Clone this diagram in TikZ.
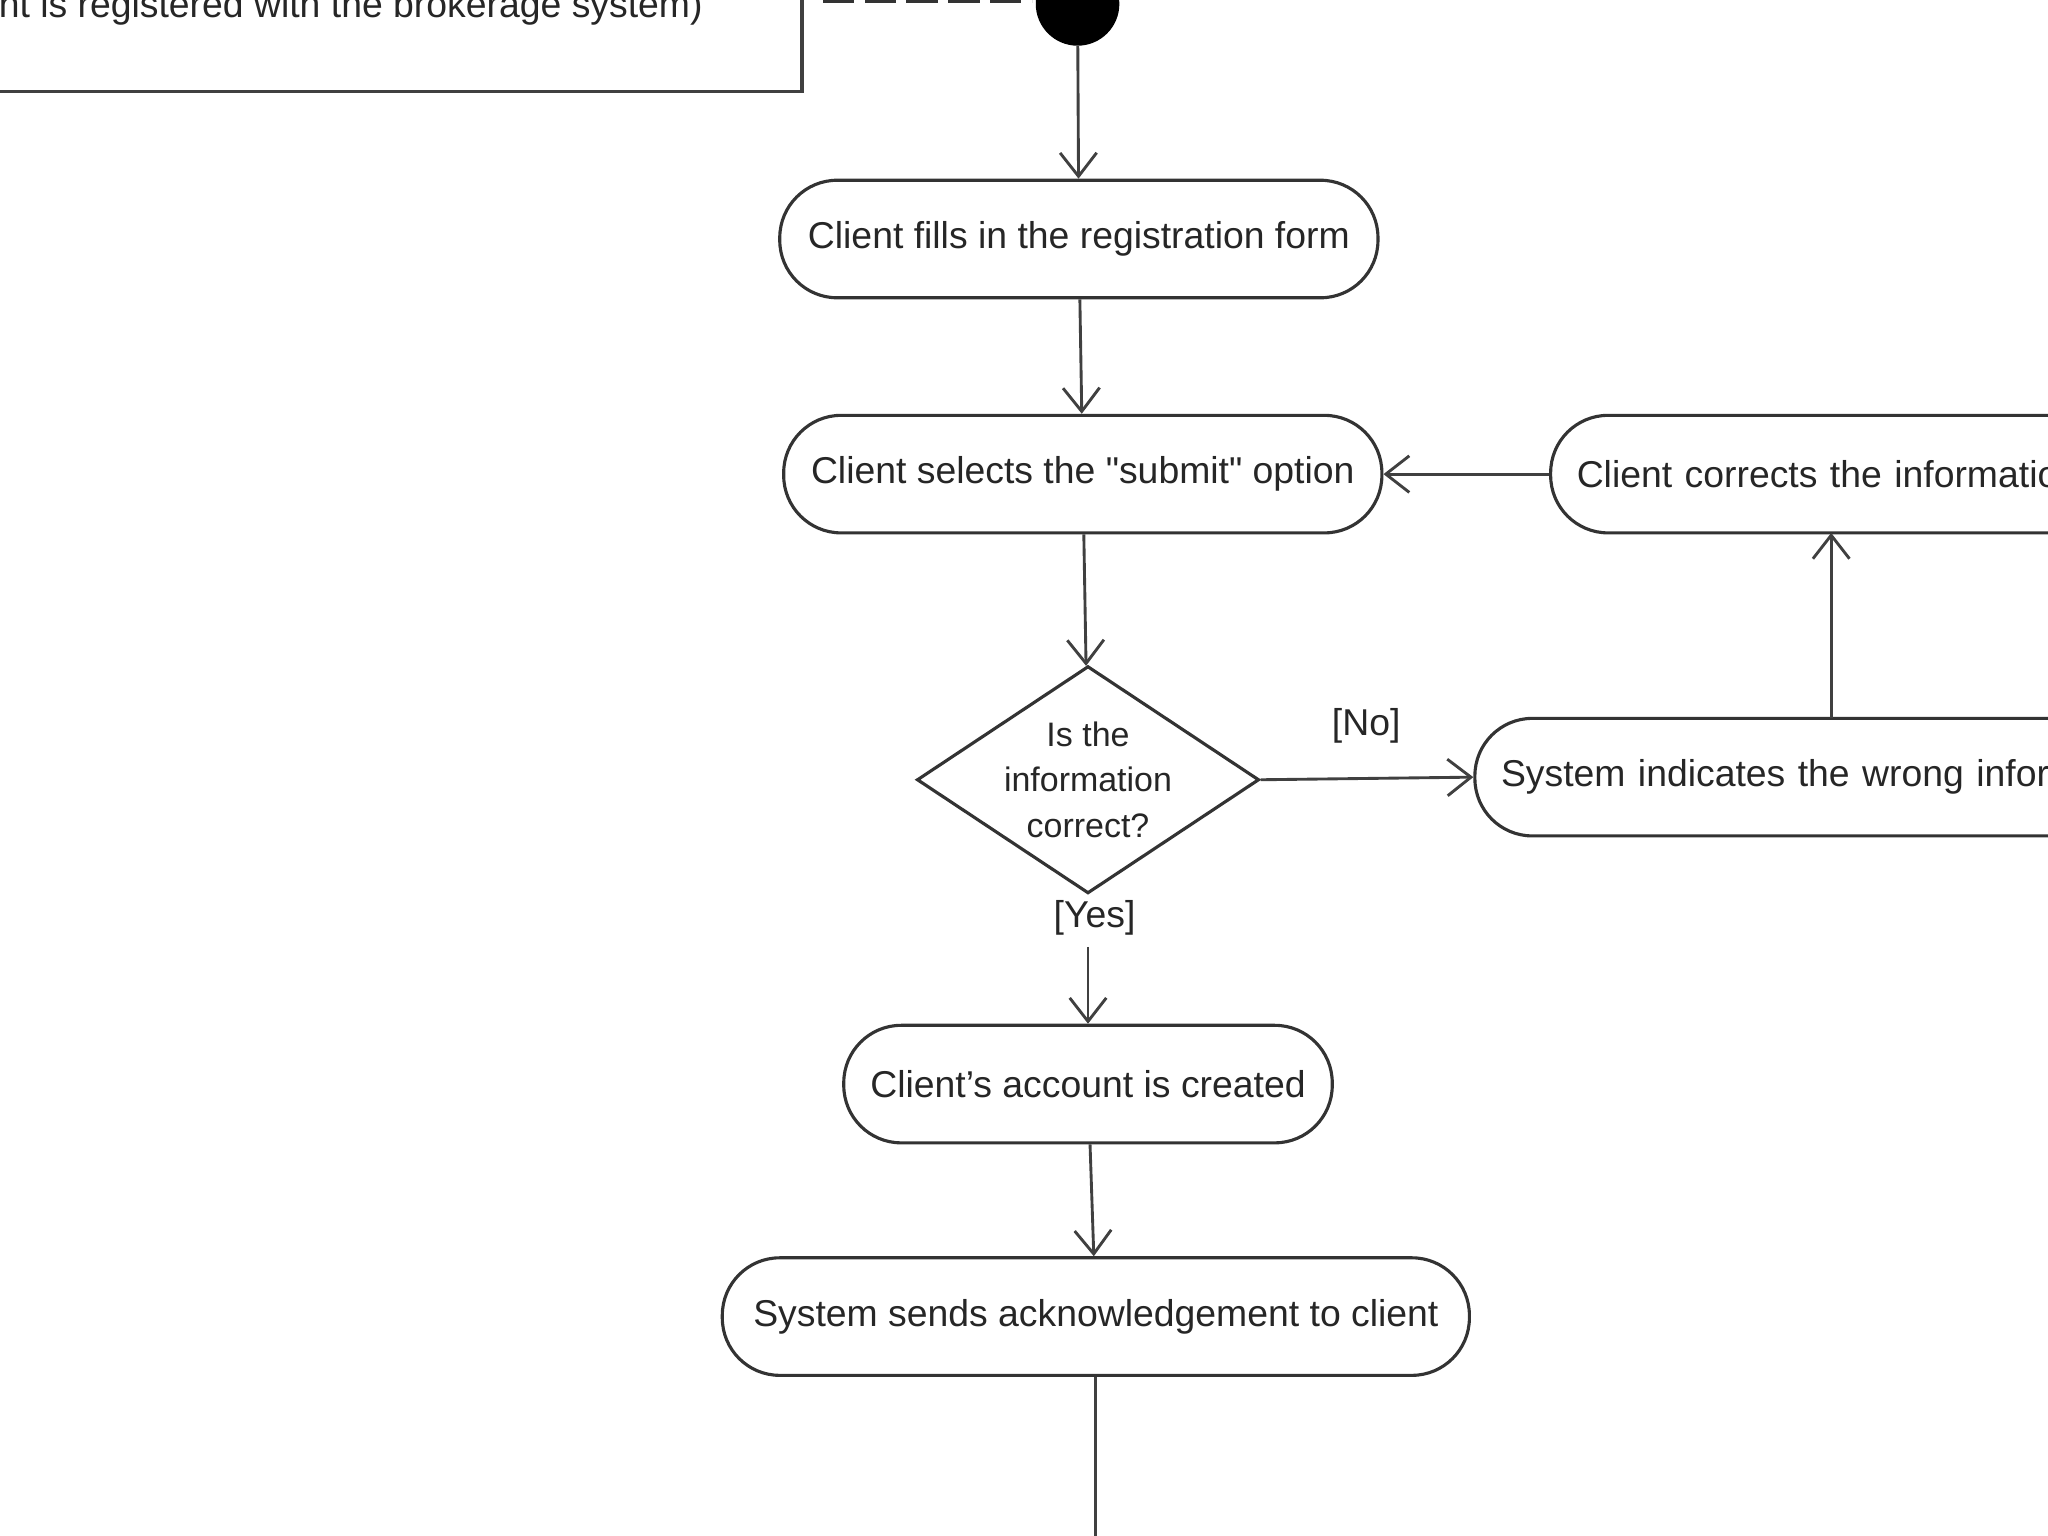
\documentclass[tikz,border=0pt]{standalone}
\usepackage{fontspec}
\setmainfont{Liberation Sans}
\usetikzlibrary{arrows.meta,shapes.geometric}
\begin{document}
\begin{tikzpicture}[x=0.5pt,y=-0.5pt,
  act/.style={draw=black!80,line width=1.2pt,rounded corners=22pt,minimum height=45pt,inner xsep=6pt,font=\fontsize{14.3}{16}\selectfont,text=black!85},
  flow/.style={draw=black!75,line width=1.1pt,-{Straight Barb[length=9pt,width=14pt,line width=1.1pt]}},
  lbl/.style={font=\fontsize{14.3}{16}\selectfont,text=black!85}]
\useasboundingbox (0,0) rectangle (1568,1176);
\clip (0,0) rectangle (1568,1176);
% note
\draw[black!75,line width=1.4pt] (-20,70) -- (614,70) -- (614,-20);
\node[lbl,anchor=east] (note) at (545,6) {(Client is registered with the brokerage system)};
\draw[black!80,line width=3pt,dash pattern=on 12pt off 4pt] (630,-1) -- (790,-1);
\node[circle,fill=black,minimum size=32pt,inner sep=0] (start) at (825,3) {};
\node[act,minimum width=229pt] (n1) at (826,183) {Client fills in the registration form};
\node[act,minimum width=229pt] (n2) at (829,363) {Client selects the \textquotedbl submit\textquotedbl{} option};
\node[act,anchor=west,minimum width=260pt,align=left,text width=240pt] (n3) at (1186,363) {Client corrects the information};
\node[diamond,draw=black!80,line width=1.2pt,aspect=1.52,minimum width=131pt,minimum height=87pt,inner sep=-3pt,align=center,font=\fontsize{13}{17.5}\selectfont,text=black!85] (d) at (833,597) {Is the\\information\\correct?};
\node[act,anchor=west,minimum width=300pt,align=left,text width=280pt] (n4) at (1128,595) {System indicates the wrong information};
\node[act,minimum width=187pt] (n5) at (833,830) {Client's account is created};
\node[act,minimum width=286pt] (n6) at (839,1008) {System sends acknowledgement to client};
\coordinate (end) at (839,1180);
\coordinate (yesfoot) at (833,725);
\draw[flow] (start) -- (n1);
\draw[flow] (n1) -- (n2);
\draw[flow] (n2) -- (d);
\draw[flow] (d.east) -- (n4.west);
\node[lbl] (no) at (1046,556) {[No]};
\draw[flow] (1402,550) -- (1402,408);
\draw[flow] (n3.west) -- (n2.east);
\node[lbl] (yes) at (838,703) {[Yes]};
\draw[flow] (yesfoot) -- (n5.north);
\draw[flow] (n5) -- (n6);
\draw[black!75,line width=1.1pt] (n6) -- (end);
\end{tikzpicture}
\end{document}
